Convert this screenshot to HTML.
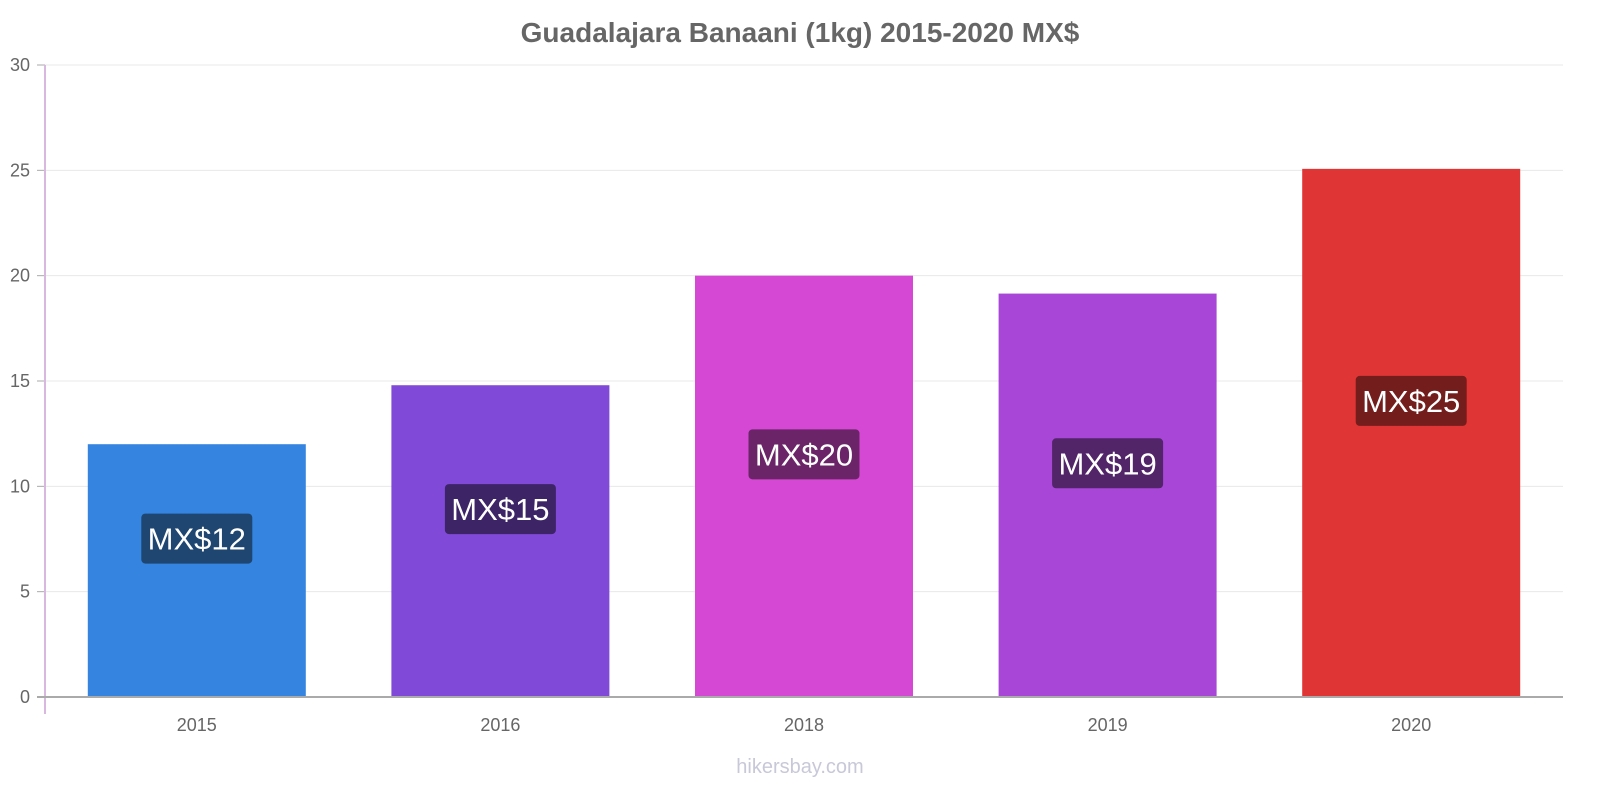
<!DOCTYPE html>
<html><head><meta charset="utf-8"><style>
html,body{margin:0;padding:0;background:#fff;overflow:hidden;width:1600px;height:800px;}
svg{display:block;}
svg text{font-family:"Liberation Sans",sans-serif;}
</style></head><body>
<svg id="chart" width="1600" height="800" viewBox="0 0 1600 800" xmlns="http://www.w3.org/2000/svg">
<text x="800" y="42" text-anchor="middle" font-size="28" font-weight="bold" fill="#666">Guadalajara Banaani (1kg) 2015-2020 MX$</text>
<g id="grid"></g>
<g id="bars"></g>
<line x1="45" y1="65" x2="45" y2="714" stroke="#d8b8e0" stroke-width="2"/>
<line x1="37" y1="697" x2="1563" y2="697" stroke="#aaa" stroke-width="2"/>
<text x="800" y="773" text-anchor="middle" font-size="20" fill="#c8c8d8">hikersbay.com</text>
</svg>
<script>
const categories = ["2015","2016","2018","2019","2020"];
const values = [12, 14.8, 20, 19.15, 25.07];
const valueLabels = ["MX$12","MX$15","MX$20","MX$19","MX$25"];
const yTicks = [0,5,10,15,20,25,30];
const barColors = ["#3584e0","#8049d8","#d548d3","#a846d8","#e03535"];
const labelColors = ["#1f4670","#3d2466","#6b2468","#522468","#731d1d"];
const NS="http://www.w3.org/2000/svg";
const x0=45,x1=1563,yBase=697,yTop=65,yMax=30;
const y=v=>yBase-(v/yMax)*(yBase-yTop);
const band=(x1-x0)/categories.length;
const bx=i=>x0+band*i+band/2;
const grid=document.getElementById('grid'),bars=document.getElementById('bars');
function mk(tag,attrs,parent){const e=document.createElementNS(NS,tag);for(const k in attrs)e.setAttribute(k,attrs[k]);parent.appendChild(e);return e;}
yTicks.forEach(t=>{
  const l=mk('line',{x1:x0,x2:x1,y1:y(t),y2:y(t),stroke:'#e8e8e8','stroke-width':1},grid);
  
  
  const tk=mk('line',{x1:37,x2:45,y1:y(t),y2:y(t),stroke:'#aaa','stroke-width':1},grid);
  
  
  const tx=mk('text',{x:30,y:y(t)+6,'text-anchor':'end','font-size':18,fill:'#666'},grid);
  tx.textContent=t;
  
  
});
const bw=218;
categories.forEach((c,i)=>{
  const cx=bx(i),top=y(values[i]);
  const r=mk('rect',{x:cx-bw/2,y:top,width:bw,height:yBase-top,fill:barColors[i]},bars);
  
  
  const ly=(top+yBase)/2-32;
  const w=valueLabels[i].length*19+16;
  const lb=mk('rect',{x:cx-w/2,y:ly-25,width:w,height:50,rx:4,fill:labelColors[i]},bars);
  
  
  const lt=mk('text',{x:cx,y:ly+11,'text-anchor':'middle','font-size':31,fill:'#fff'},bars);
  lt.textContent=valueLabels[i];
  
  
  const xt=mk('text',{x:cx,y:731,'text-anchor':'middle','font-size':18,fill:'#666'},bars);
  xt.textContent=c;
  
  
});
</script>
</body></html>
